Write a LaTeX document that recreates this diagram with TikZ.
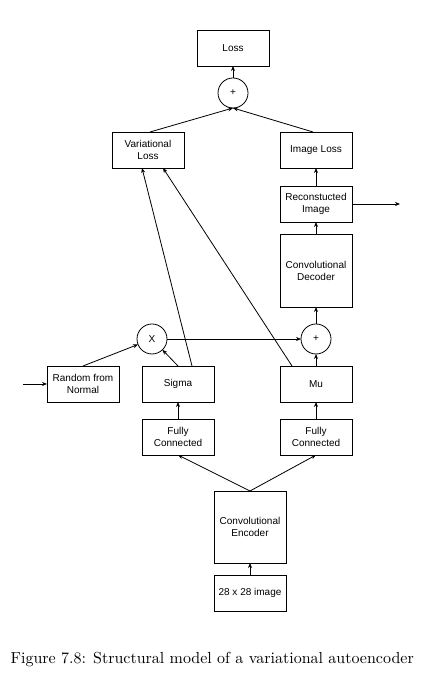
\documentclass[tikz,border=0pt]{standalone}
\usepackage{fontspec}
\setsansfont{Liberation Sans}
\usepackage{tikz}
\usetikzlibrary{arrows.meta,calc,positioning}

\begin{document}
\begin{tikzpicture}[x=1pt, y=1pt, line width=0.8pt,
      every node/.style={font=\sffamily\fontsize{10}{12}\selectfont},
      box/.style={draw, align=center, minimum width=72pt, minimum height=36pt, inner sep=1pt, outer sep=0pt},
      sum/.style={draw, circle, minimum size=30pt, inner sep=0pt, outer sep=0pt},
      >={Stealth[length=5pt, width=4pt]}]
    \useasboundingbox (0,0) rectangle (437,676);
    \node[sum] (lplus) at (233,583) {+};
    \node[box, above=12pt of lplus] (loss) {Loss};
    \node[box] (iloss) at (316,526) {Image Loss};
    \node[box, left=96pt of iloss] (vloss) {Variational\\Loss};
    \node[box, below=18pt of iloss] (recon) {Reconstucted\\Image};
    \node[box, minimum height=73pt, below=12pt of recon] (dec) {Convolutional\\Decoder};
    \node[sum, below=17pt of dec] (mplus) {+};
    \node[box, below=12pt of mplus] (mu) {Mu};
    \node[box, below=17pt of mu] (fcr) {Fully\\Connected};
    \node[box, left=66pt of mu] (sigma) {Sigma};
    \node[box, below=17pt of sigma] (fcl) {Fully\\Connected};
    \node[box, left=23pt of sigma] (rand) {Random from\\Normal};
    \node[sum, above=12pt of sigma, xshift=-26pt] (times) {X};
    \coordinate (mid) at ($(fcl.south)!0.5!(fcr.south)$);
    \node[box, minimum height=72pt, below=36pt of mid, xshift=3pt] (enc) {Convolutional\\Encoder};
    \node[box, below=12pt of enc] (img) {28 x 28 image};
    \coordinate[left=24pt of rand] (in);
    \coordinate[right=48pt of recon] (out);
    \node[anchor=west, inner sep=0pt, scale=1.6, font=\rmfamily\fontsize{10}{12}\selectfont] (cap) at (10,16)
      {Figure 7.8: Structural model of a variational autoencoder};
    \draw[->] (lplus) -- (loss);
    \draw[->] ([xshift=2pt]vloss.north) -- (lplus.south);
    \draw[->] ([xshift=-3pt]iloss.north) -- (lplus.south);
    \draw[->] (recon) -- (iloss); \draw[->] (dec) -- (recon); \draw[->] (mplus) -- (dec);
    \draw[->] (mu) -- (mplus); \draw[->] (times) -- (mplus);
    \draw[->] (rand.north) -- (times); \draw[->] (sigma.north) -- (times);
    \draw[->] ([xshift=14pt]sigma.north) -- ([xshift=-6pt]vloss.south);
    \draw[->] ([xshift=-24pt]mu.north) -- ([xshift=15pt]vloss.south);
    \draw[->] (fcl) -- (sigma); \draw[->] (fcr) -- (mu);
    \draw[->] (enc.north) -- (fcl.south); \draw[->] (enc.north) -- (fcr.south);
    \draw[->] (img) -- (enc);
    \draw[->] (in) -- (rand); \draw[->] (recon) -- (out);
  \end{tikzpicture}
\end{document}
